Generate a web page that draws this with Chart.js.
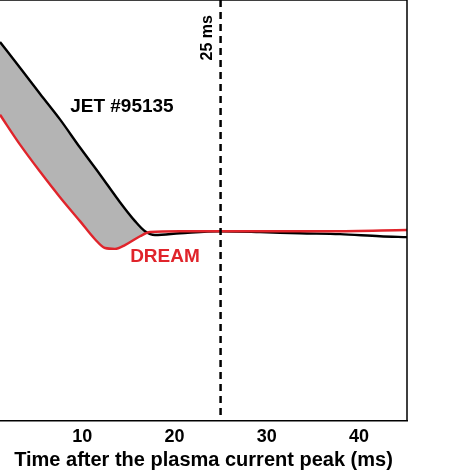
<!DOCTYPE html>
<html><head><meta charset="utf-8">
<script src="https://cdn.jsdelivr.net/npm/chart.js@4/dist/chart.umd.min.js"></script>
<style>html,body{margin:0;padding:0;background:#fff}#wrap{width:474px;height:474px}</style>
</head><body><div id="wrap"><canvas id="chart"></canvas></div>
<script>
// time after current peak (ms) and signal in arbitrary units
var jetTime = [1.1, 3.27, 5.43, 7.6, 9.77, 11.93, 14.1, 15.73, 16.81, 17.89, 20.6, 24.94, 29.27, 33.6, 37.94, 42.27, 45.2];
var jetValues = [90, 83.9, 77.7, 71.6, 64.9, 58.5, 51.9, 47.4, 45.0, 44.1, 44.5, 45.0, 44.8, 44.5, 44.3, 43.8, 43.6];
var dreamTime = [1.1, 3.27, 5.43, 7.6, 9.77, 11.39, 12.48, 13.56, 14.64, 16.27, 17.35, 20.6, 28.19, 36.85, 45.2];
var dreamValues = [72.7, 65.6, 59.2, 53.1, 47.4, 43.1, 41.0, 40.8, 41.7, 43.8, 44.8, 45.0, 45.0, 45.0, 45.3];
var xTicks = [10, 20, 30, 40];
var markerTime = 25;

function pts(xs, ys) { return xs.map(function (x, i) { return {x: x, y: ys[i]}; }); }

var extras = {
  id: 'extras',
  afterDatasetsDraw: function (chart) {
    var c = chart.ctx, a = chart.chartArea, xs = chart.scales.x, ys = chart.scales.y;
    c.save();
    c.strokeStyle = '#000'; c.lineWidth = 1.5; c.setLineDash([]);
    c.beginPath(); c.moveTo(a.left, a.top); c.lineTo(a.right, a.top); c.lineTo(a.right, a.bottom); c.stroke();
    var px = xs.getPixelForValue(markerTime);
    c.setLineDash([7, 5]); c.lineWidth = 2.5;
    c.beginPath(); c.moveTo(px, a.top); c.lineTo(px, a.bottom); c.stroke();
    c.setLineDash([]);
    c.font = 'bold 16px "Liberation Sans", Arial, sans-serif';
    c.fillStyle = '#000';
    c.save(); c.translate(px - 5, ys.getPixelForValue(91)); c.rotate(-Math.PI / 2);
    c.textAlign = 'center'; c.textBaseline = 'bottom'; c.fillText('25 ms', 0, 0); c.restore();
    c.textAlign = 'left'; c.textBaseline = 'middle';
    c.font = 'bold 19px "Liberation Sans", Arial, sans-serif';
    c.fillText('JET #95135', xs.getPixelForValue(8.7), ys.getPixelForValue(74.5));
    c.fillStyle = '#e0242b';
    c.fillText('DREAM', xs.getPixelForValue(15.2), ys.getPixelForValue(39));
    c.restore();
  }
};

new Chart(document.getElementById('chart'), {
  type: 'line',
  data: {
    datasets: [
      {data: pts(jetTime, jetValues), borderColor: '#000', borderWidth: 2.4, pointRadius: 0, order: 1,
       fill: {target: '+1', above: '#b4b4b4', below: 'rgba(0,0,0,0)'}, cubicInterpolationMode: 'monotone'},
      {data: pts(dreamTime, dreamValues), borderColor: '#e0242b', borderWidth: 2.4, pointRadius: 0, order: 0,
       fill: false, cubicInterpolationMode: 'monotone'}
    ]
  },
  options: {
    responsive: true, maintainAspectRatio: false, animation: false,
    layout: {padding: {left: 0, right: 67, top: 0, bottom: 0}},
    plugins: {legend: {display: false}, tooltip: {enabled: false}},
    scales: {
      x: {
        type: 'linear', min: 1.1, max: 45.2,
        afterBuildTicks: function (s) { s.ticks = xTicks.map(function (v) { return {value: v}; }); },
        grid: {display: false, drawTicks: true, tickLength: 6, tickColor: '#000'},
        border: {display: true, color: '#000', width: 1.5},
        ticks: {color: '#000', font: {size: 18, weight: 'bold', family: '"Liberation Sans", Arial'}, maxRotation: 0, padding: 0},
        title: {display: true, text: 'Time after the plasma current peak (ms)', color: '#000',
                font: {size: 20, weight: 'bold', family: '"Liberation Sans", Arial'}, padding: {top: 0, bottom: 2}}
      },
      y: {display: false, min: 0, max: 100}
    }
  },
  plugins: [extras]
});
</script></body></html>
